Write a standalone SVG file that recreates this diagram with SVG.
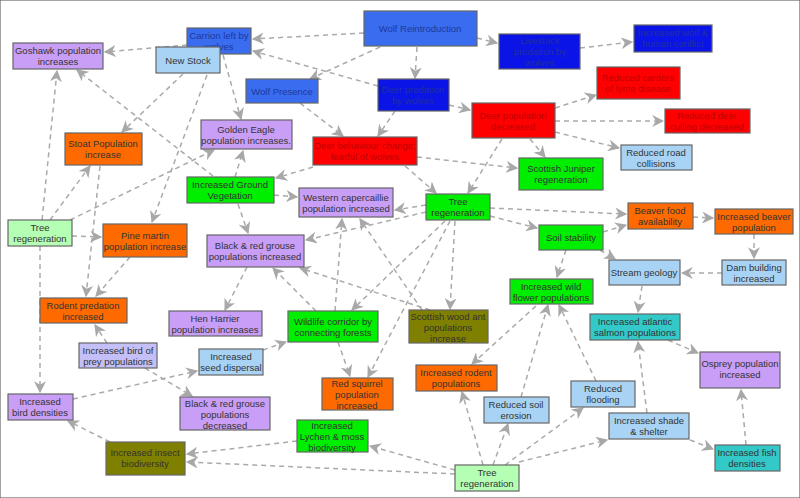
<svg xmlns="http://www.w3.org/2000/svg" width="800" height="498" viewBox="0 0 800 498">
<defs>
<marker id="a" viewBox="0 0 10 10" refX="9" refY="5" markerWidth="8" markerHeight="8" orient="auto"><path d="M0,0 L10,5 L0,10 L3,5 Z" fill="#a8a8a8"/></marker>
<style>
rect{stroke:#666;stroke-width:1.2}
text{font-family:"Liberation Sans",Arial,sans-serif;font-size:9.5px;text-anchor:middle;fill:#333}
.e path,.e line{stroke:#aaa;stroke-width:1.5;stroke-dasharray:5,4;fill:none;marker-end:url(#a)}
.pu{fill:#c99ef7}.lb{fill:#a9d3f5}.or{fill:#ff6a00}.gr{fill:#00ee00}.lg{fill:#b5ffb5}.rd{fill:#ff0000}.db{fill:#0a14e6}.bl{fill:#3a6cf0}.ol{fill:#808000}.te{fill:#33c9c9}.lv{fill:#c4c0f7}
.trd{fill:#c00000}.tdb{fill:#2030a0}.tbl{fill:#1a3a9a}
</style>
</defs>
<rect x="0" y="0" width="800" height="498" fill="#fff" stroke="none"/>
<g class="e">
<line x1="364" y1="33" x2="253" y2="39"/>
<line x1="477" y1="38" x2="497" y2="43"/>
<line x1="417" y1="47" x2="415" y2="78"/>
<line x1="380" y1="47" x2="310" y2="79"/>
<line x1="580" y1="48" x2="632" y2="42"/>
<line x1="187" y1="45" x2="105" y2="52"/>
<line x1="223" y1="55" x2="241" y2="119"/>
<line x1="378" y1="86" x2="253" y2="51"/>
<line x1="449" y1="105" x2="470" y2="110"/>
<line x1="395" y1="111" x2="378" y2="136"/>
<line x1="300" y1="103" x2="343" y2="136"/>
<line x1="183" y1="74" x2="122" y2="132"/>
<line x1="207" y1="75" x2="152" y2="222"/>
<line x1="555" y1="108" x2="596" y2="95"/>
<line x1="555" y1="121" x2="663" y2="121"/>
<line x1="555" y1="132" x2="619" y2="148"/>
<line x1="530" y1="139" x2="545" y2="157"/>
<line x1="502" y1="139" x2="468" y2="193"/>
<line x1="417" y1="157" x2="517" y2="168"/>
<line x1="405" y1="166" x2="436" y2="193"/>
<line x1="313" y1="167" x2="276" y2="178"/>
<line x1="235" y1="177" x2="243" y2="151"/>
<line x1="274" y1="195" x2="297" y2="197"/>
<line x1="238" y1="204" x2="248" y2="233"/>
<line x1="213" y1="176" x2="77" y2="70"/>
<line x1="42" y1="220" x2="57" y2="71"/>
<line x1="50" y1="220" x2="90" y2="166"/>
<line x1="70" y1="220" x2="214" y2="150"/>
<line x1="72" y1="236" x2="101" y2="237"/>
<line x1="40" y1="246" x2="40" y2="392"/>
<line x1="100" y1="166" x2="86" y2="296"/>
<line x1="130" y1="257" x2="96" y2="296"/>
<line x1="247" y1="267" x2="225" y2="310"/>
<line x1="107" y1="343" x2="95" y2="325"/>
<line x1="145" y1="368" x2="192" y2="396"/>
<line x1="73" y1="399" x2="197" y2="371"/>
<line x1="263" y1="350" x2="286" y2="342"/>
<line x1="110" y1="442" x2="68" y2="421"/>
<line x1="297" y1="441" x2="187" y2="454"/>
<line x1="455" y1="474" x2="187" y2="462"/>
<line x1="455" y1="470" x2="370" y2="446"/>
<line x1="483" y1="465" x2="462" y2="392"/>
<line x1="493" y1="465" x2="508" y2="424"/>
<line x1="505" y1="465" x2="583" y2="408"/>
<line x1="519" y1="462" x2="607" y2="440"/>
<line x1="521" y1="397" x2="548" y2="305"/>
<line x1="596" y1="381" x2="559" y2="305"/>
<line x1="536" y1="306" x2="472" y2="364"/>
<line x1="647" y1="413" x2="638" y2="342"/>
<line x1="690" y1="440" x2="713" y2="449"/>
<line x1="746" y1="445" x2="741" y2="390"/>
<line x1="668" y1="340" x2="698" y2="353"/>
<line x1="642" y1="286" x2="638" y2="312"/>
<line x1="722" y1="273" x2="682" y2="273"/>
<line x1="754" y1="234" x2="754" y2="258"/>
<line x1="693" y1="217" x2="713" y2="218"/>
<line x1="490" y1="208" x2="626" y2="214"/>
<line x1="490" y1="216" x2="537" y2="228"/>
<line x1="603" y1="232" x2="626" y2="225"/>
<line x1="600" y1="250" x2="615" y2="259"/>
<line x1="566" y1="250" x2="557" y2="277"/>
<line x1="426" y1="205" x2="395" y2="210"/>
<line x1="426" y1="212" x2="306" y2="240"/>
<line x1="455" y1="221" x2="450" y2="309"/>
<line x1="445" y1="221" x2="352" y2="310"/>
<line x1="450" y1="221" x2="368" y2="377"/>
<line x1="338" y1="342" x2="350" y2="376"/>
<line x1="316" y1="311" x2="273" y2="268"/>
<line x1="335" y1="311" x2="342" y2="219"/>
<line x1="430" y1="310" x2="300" y2="268"/>
<line x1="422" y1="310" x2="360" y2="219"/>
</g>
<g id="wolf-reintroduction"><rect class="bl" x="364" y="11" width="113" height="35"/><text class="tbl" x="420" y="32">Wolf Reintroduction</text></g>
<g id="carrion"><rect class="bl" x="187" y="28" width="64" height="26"/><text class="tbl" x="219" y="39">Carrion left by</text><text class="tbl" x="219" y="50">wolves</text></g>
<g id="new-stock"><rect class="lb" x="156" y="47" width="64" height="26"/><text x="188" y="64">New Stock</text></g>
<g id="goshawk"><rect class="pu" x="13" y="43" width="90" height="26"/><text x="58" y="54">Goshawk population</text><text x="58" y="65">increases</text></g>
<g id="livestock"><rect class="db" x="499" y="34" width="81" height="35"/><text class="tdb" x="540" y="44">Livestock</text><text class="tdb" x="540" y="55">predation by</text><text class="tdb" x="540" y="66">wolves</text></g>
<g id="conflict"><rect class="db" x="634" y="25" width="78" height="27"/><text class="tdb" x="673" y="36">Increased wolf &amp;</text><text class="tdb" x="673" y="47">human conflict</text></g>
<g id="wolf-presence"><rect class="bl" x="246" y="79" width="72" height="24"/><text class="tbl" x="282" y="95">Wolf Presence</text></g>
<g id="deer-predation"><rect class="db" x="378" y="79" width="71" height="32"/><text class="tdb" x="413" y="93">Deer predation</text><text class="tdb" x="413" y="104">by wolves</text></g>
<g id="lyme"><rect class="rd" x="597" y="67" width="83" height="32"/><text class="trd" x="638" y="81">Reduced carriers</text><text class="trd" x="638" y="92">of lyme disease</text></g>
<g id="deer-pop"><rect class="rd" x="472" y="103" width="83" height="35"/><text class="trd" x="513" y="119">Deer population</text><text class="trd" x="513" y="130">decreased</text></g>
<g id="culling"><rect class="rd" x="665" y="109" width="85" height="24"/><text class="trd" x="707" y="119">Reduced deer</text><text class="trd" x="707" y="130">culling decreased</text></g>
<g id="golden-eagle"><rect class="pu" x="201" y="120" width="91" height="29"/><text x="246" y="133">Golden Eagle</text><text x="246" y="144">population increases.</text></g>
<g id="stoat"><rect class="or" x="65" y="133" width="77" height="32"/><text x="103" y="147">Stoat Population</text><text x="103" y="158">increase</text></g>
<g id="deer-behaviour"><rect class="rd" x="313" y="137" width="104" height="28"/><text class="trd" x="365" y="149">Deer behaviour change;</text><text class="trd" x="365" y="160">fearful of wolves</text></g>
<g id="road"><rect class="lb" x="621" y="145" width="71" height="25"/><text x="656" y="156">Reduced road</text><text x="656" y="167">collisions</text></g>
<g id="juniper"><rect class="gr" x="519" y="158" width="84" height="32"/><text x="561" y="172">Scottish Juniper</text><text x="561" y="183">regeneration</text></g>
<g id="ground-veg"><rect class="gr" x="187" y="177" width="87" height="26"/><text x="230" y="188">Increased Ground</text><text x="230" y="199">Vegetation</text></g>
<g id="capercaillie"><rect class="pu" x="299" y="188" width="94" height="29"/><text x="346" y="201">Western capercaillie</text><text x="346" y="212">population increased</text></g>
<g id="tree-center"><rect class="gr" x="426" y="194" width="64" height="26"/><text x="458" y="205">Tree</text><text x="458" y="216">regeneration</text></g>
<g id="tree-left"><rect class="lg" x="8" y="220" width="64" height="26"/><text x="40" y="231">Tree</text><text x="40" y="242">regeneration</text></g>
<g id="pine-martin"><rect class="or" x="103" y="224" width="84" height="33"/><text x="145" y="239">Pine martin</text><text x="145" y="250">population increase</text></g>
<g id="beaver-food"><rect class="or" x="628" y="203" width="65" height="26"/><text x="660" y="214">Beaver food</text><text x="660" y="225">availability</text></g>
<g id="beaver-pop"><rect class="or" x="715" y="209" width="78" height="25"/><text x="754" y="220">Increased beaver</text><text x="754" y="231">population</text></g>
<g id="grouse-inc"><rect class="pu" x="207" y="235" width="97" height="32"/><text x="255" y="249">Black &amp; red grouse</text><text x="255" y="260">populations increased</text></g>
<g id="soil-stability"><rect class="gr" x="539" y="225" width="64" height="25"/><text x="571" y="241">Soil stability</text></g>
<g id="stream"><rect class="lb" x="609" y="260" width="71" height="25"/><text x="644" y="276">Stream geology</text></g>
<g id="dam"><rect class="lb" x="722" y="260" width="64" height="25"/><text x="754" y="271">Dam building</text><text x="754" y="282">increased</text></g>
<g id="wild-flower"><rect class="gr" x="510" y="279" width="83" height="25"/><text x="551" y="290">Increased wild</text><text x="551" y="301">flower populations</text></g>
<g id="rodent-pred"><rect class="or" x="40" y="298" width="87" height="25"/><text x="83" y="309">Rodent predation</text><text x="83" y="320">increased</text></g>
<g id="hen-harrier"><rect class="pu" x="169" y="311" width="93" height="25"/><text x="215" y="322">Hen Harrier</text><text x="215" y="333">population increases</text></g>
<g id="corridor"><rect class="gr" x="288" y="311" width="90" height="31"/><text x="333" y="325">Wildlife corridor by</text><text x="333" y="336">connecting forests</text></g>
<g id="wood-ant"><rect class="ol" x="409" y="310" width="79" height="33"/><text x="448" y="320">Scottish wood ant</text><text x="448" y="331">populations</text><text x="448" y="342">increase</text></g>
<g id="salmon"><rect class="te" x="590" y="314" width="90" height="26"/><text x="635" y="325">Increased atlantic</text><text x="635" y="336">salmon populations</text></g>
<g id="bird-prey"><rect class="lv" x="79" y="343" width="78" height="25"/><text x="118" y="354">Increased bird of</text><text x="118" y="365">prey populations</text></g>
<g id="seed"><rect class="lb" x="199" y="349" width="64" height="26"/><text x="231" y="360">Increased</text><text x="231" y="371">seed dispersal</text></g>
<g id="osprey"><rect class="pu" x="700" y="352" width="80" height="36"/><text x="740" y="367">Osprey population</text><text x="740" y="378">increased</text></g>
<g id="rodent-pop"><rect class="or" x="416" y="365" width="81" height="26"/><text x="456" y="376">Increased rodent</text><text x="456" y="387">populations</text></g>
<g id="squirrel"><rect class="or" x="322" y="378" width="71" height="32"/><text x="357" y="387">Red squirrel</text><text x="357" y="398">population</text><text x="357" y="409">increased</text></g>
<g id="flooding"><rect class="lb" x="571" y="381" width="64" height="26"/><text x="603" y="392">Reduced</text><text x="603" y="403">flooding</text></g>
<g id="bird-densities"><rect class="pu" x="8" y="394" width="65" height="26"/><text x="40" y="405">Increased</text><text x="40" y="416">bird densities</text></g>
<g id="grouse-dec"><rect class="pu" x="180" y="397" width="90" height="33"/><text x="225" y="407">Black &amp; red grouse</text><text x="225" y="418">populations</text><text x="225" y="429">decreased</text></g>
<g id="soil-erosion"><rect class="lb" x="484" y="397" width="65" height="26"/><text x="516" y="408">Reduced soil</text><text x="516" y="419">erosion</text></g>
<g id="shade"><rect class="lb" x="609" y="413" width="80" height="26"/><text x="649" y="424">Increased shade</text><text x="649" y="435">&amp; shelter</text></g>
<g id="lychen"><rect class="gr" x="297" y="420" width="71" height="32"/><text x="332" y="429">Increased</text><text x="332" y="440">Lychen &amp; moss</text><text x="332" y="451">biodiversity</text></g>
<g id="insect"><rect class="ol" x="106" y="442" width="79" height="33"/><text x="145" y="456">Increased insect</text><text x="145" y="467">biodiversity</text></g>
<g id="tree-bottom"><rect class="lg" x="455" y="465" width="64" height="26"/><text x="487" y="476">Tree</text><text x="487" y="487">regeneration</text></g>
<g id="fish"><rect class="te" x="715" y="445" width="65" height="26"/><text x="747" y="456">Increased fish</text><text x="747" y="467">densities</text></g>
</svg>
